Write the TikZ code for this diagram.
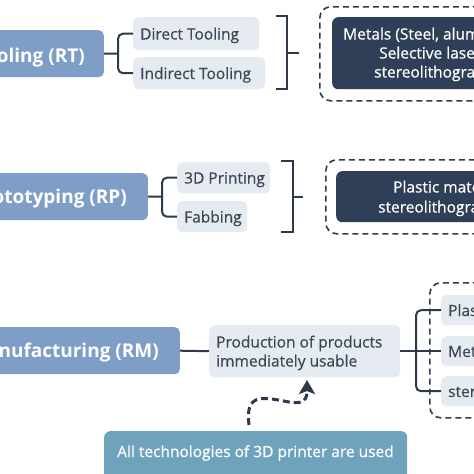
\documentclass[tikz,border=0pt]{standalone}
\usepackage{fontspec}
\setmainfont{Open Sans}
\newfontfamily\medfont{Open Sans}[FakeBold=0.6]
\usetikzlibrary{arrows.meta}
\definecolor{mainblue}{RGB}{126,158,200}
\definecolor{lightfill}{RGB}{230,235,242}
\definecolor{darkfill}{RGB}{46,63,87}
\definecolor{linec}{RGB}{46,58,75}
\definecolor{tealfill}{RGB}{111,163,188}
\definecolor{textdark}{RGB}{60,72,90}
\begin{document}
\begin{tikzpicture}[x=1pt,y=-1pt,
  mainbox/.style={fill=mainblue, rounded corners=5pt, minimum height=47pt,
    minimum width=300pt, inner sep=0pt, anchor=north east},
  maintext/.style={text=white, font=\fontsize{19}{22}\selectfont\bfseries,
    inner sep=0pt, anchor=base east},
  lbox/.style={fill=lightfill, rounded corners=5pt, inner sep=0pt, anchor=north west},
  ltext/.style={text=textdark, font=\medfont\fontsize{15.5}{19}\selectfont,
    inner sep=0pt, anchor=base west},
  dbox/.style={fill=darkfill, rounded corners=6pt, anchor=north west, inner sep=0pt},
  dtext/.style={text=white, font=\medfont\fontsize{15.5}{19}\selectfont, anchor=base west, inner sep=0pt},
  dashbox/.style={draw=linec, line width=1.6pt, dash pattern=on 6pt off 4pt,
    rounded corners=11pt, anchor=north west, inner sep=0pt},
  conn/.style={draw=linec, line width=2pt},
  tealbox/.style={fill=tealfill, rounded corners=6pt, inner sep=0pt, anchor=north west},
  tealtext/.style={text=white, font=\medfont\fontsize{15.5}{19}\selectfont, inner sep=0pt}
]
\useasboundingbox (0,0) rectangle (474,474);
\fill[white] (0,0) rectangle (474,474);

% ---------- Rapid Tooling ----------
\node[mainbox] (RT) at (104,30) {};
\node[maintext] (RTt) at (85,62) {Rapid Tooling (RT)};
\node[lbox, minimum width=126pt, minimum height=33pt] (DT) at (133,17) {};
\node[ltext] (DTt) at (140,39.5) {Direct Tooling};
\node[lbox, minimum width=132pt, minimum height=32pt] (IT) at (133,57) {};
\node[ltext] (ITt) at (140,79) {Indirect Tooling};
\coordinate (rtj) at (118,53.5);
\draw[conn] (RT.east) -- (rtj);
\draw[conn, rounded corners=5pt] (DT.west) -| (rtj) |- (IT.west);
\coordinate (rtb1) at (276,16);
\coordinate (rtb2) at (276,89);
\coordinate (rtbm) at (287,53);
\coordinate (rtbo) at (299,53);
\draw[conn] (rtb1) -| (rtbm) |- (rtb2);
\draw[conn] (rtbm) -- (rtbo);
\node[dashbox, minimum width=240pt, minimum height=94pt] (DB1) at (319,6) {};
\node[dbox, minimum width=220pt, minimum height=72pt] (D1) at (332,17) {};
\node[dtext] (D1a) at (343,39.5) {Metals (Steel, aluminum)};
\node[dtext] (D1b) at (379,58.5) {Selective laser sintering};
\node[dtext] (D1c) at (374,77.5) {stereolithography};

% ---------- Rapid Prototyping ----------
\node[mainbox] (RP) at (148,173) {};
\node[maintext] (RPt) at (127,203) {Rapid Prototyping (RP)};
\node[lbox, minimum width=93pt, minimum height=31pt] (PR) at (177,162) {};
\node[ltext] (PRt) at (184,183.5) {3D Printing};
\node[lbox, minimum width=70pt, minimum height=31pt] (FB) at (177,201) {};
\node[ltext] (FBt) at (184,222.5) {Fabbing};
\coordinate (rpj) at (162,196.5);
\draw[conn] (RP.east) -- (rpj);
\draw[conn, rounded corners=5pt] (PR.west) -| (rpj) |- (FB.west);
\coordinate (rpb1) at (281,161);
\coordinate (rpb2) at (281,232);
\coordinate (rpbm) at (293,197);
\coordinate (rpbo) at (303,197);
\draw[conn] (rpb1) -| (rpbm) |- (rpb2);
\draw[conn] (rpbm) -- (rpbo);
\node[dashbox, minimum width=240pt, minimum height=74pt] (DB2) at (325,159) {};
\node[dbox, minimum width=220pt, minimum height=51pt] (D2) at (336,171) {};
\node[dtext] (D2a) at (393,192.5) {Plastic materials};
\node[dtext] (D2b) at (378,212.5) {stereolithography};

% ---------- Rapid Manufacturing ----------
\node[mainbox] (RM) at (180,327) {};
\node[maintext] (RMt) at (159,357) {Rapid Manufacturing (RM)};
\node[lbox, minimum width=191pt, minimum height=52pt] (PD) at (209,325) {};
\node[ltext] (PDa) at (216,347.5) {Production of products};
\node[ltext] (PDb) at (216,366.5) {immediately usable};
\draw[conn] (RM.east) -- (PD.west);
\node[dashbox, minimum width=100pt, minimum height=135pt] (DB3) at (429,282) {};
\node[lbox, minimum width=100pt, minimum height=30pt] (PL) at (441,295) {};
\node[ltext] (PLt) at (448,316) {Plastic materials};
\node[lbox, minimum width=100pt, minimum height=30pt] (MT) at (441,336) {};
\node[ltext] (MTt) at (448,357) {Metals};
\node[lbox, minimum width=100pt, minimum height=30pt] (SL) at (441,376) {};
\node[ltext] (SLt) at (448,397) {stereolithography};
\coordinate (rmj) at (416,351);
\draw[conn] (PD.east) -- (MT.west);
\draw[conn, rounded corners=5pt] (PL.west) -| (rmj) |- (SL.west);

% ---------- bottom ----------
\node[tealbox, minimum width=303pt, minimum height=50pt] (ALL) at (104,431) {};
\node[tealtext] (ALLt) at (255.5,453) {All technologies of 3D printer are used};
\coordinate (as) at (249,425);
\coordinate (ae) at (307,380);
\draw[draw=linec, line width=3pt, dash pattern=on 7pt off 4pt,
  -{Stealth[length=14pt,width=16pt,inset=3pt]}]
  (as) .. controls (246,400) and (255,397) .. (272,399)
  .. controls (287,401) and (296,405) .. (303,401)
  .. controls (307,398) and (307,394) .. (ae);
\end{tikzpicture}
\end{document}
